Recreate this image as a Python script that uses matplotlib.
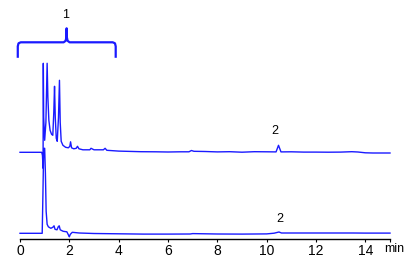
import matplotlib
matplotlib.use("Agg")
import matplotlib.pyplot as plt
import numpy as np

plt.rcParams['font.family'] = ['Liberation Sans', 'DejaVu Sans']

# Upper chromatogram (time in min, signal relative to its own baseline)
upper_t = [0.00, 0.88, 0.91, 0.935, 0.945, 0.96, 1.00, 1.05, 1.10, 1.13, 1.17, 1.22,
           1.28, 1.33, 1.37, 1.40, 1.43, 1.47, 1.51, 1.56, 1.60, 1.63, 1.67, 1.74,
           1.85, 1.96, 2.02, 2.05, 2.09, 2.18, 2.28, 2.33, 2.39, 2.55, 2.75, 2.83,
           2.88, 3.00, 3.38, 3.45, 3.52, 4.00, 4.90, 5.50, 6.00, 6.50, 6.85, 6.95,
           7.05, 7.50, 8.00, 8.50, 9.00, 9.50, 10.00, 10.38, 10.48, 10.58, 11.00,
           11.50, 12.00, 12.50, 13.00, 13.45, 13.70, 14.00, 14.30, 15.00]
upper_v = [0.0, 0.0, -3.0, -16.0, 89.0, 35.0, 12.0, 30.0, 89.0, 55.0, 32.0, 22.0,
           18.0, 17.0, 40.0, 66.0, 35.0, 14.0, 11.0, 35.0, 72.0, 30.0, 11.0, 7.0,
           5.0, 4.5, 6.0, 10.5, 4.5, 3.5, 4.0, 6.0, 3.5, 2.5, 2.5, 2.5,
           4.0, 2.5, 2.5, 4.0, 2.0, 1.2, 0.6, 0.5, 0.3, 0.5, 0.5, 1.8,
           1.0, 0.8, 0.4, 0.6, 0.1, 0.6, 0.5, 0.4, 7.0, 0.4, 0.5,
           0.2, 0.2, 0.1, 0.2, 0.6, 0.3, -0.5, -0.7, -0.7]

# Lower chromatogram
lower_t = [0.00, 0.90, 0.93, 0.96, 1.00, 1.03, 1.06, 1.10, 1.15, 1.25, 1.33, 1.38,
           1.42, 1.50, 1.55, 1.59, 1.63, 1.75, 1.90, 1.97, 2.00, 2.04, 2.12, 2.40,
           3.00, 4.00, 5.00, 6.00, 6.90, 7.00, 8.00, 9.00, 10.00, 10.30, 10.50,
           10.60, 11.50, 12.50, 13.50, 14.00, 15.00]
lower_v = [0.0, 0.0, 40.0, 85.0, 85.0, 60.0, 22.0, 9.0, 6.5, 5.0, 6.0, 7.5,
           4.0, 3.5, 6.5, 7.5, 3.5, 2.0, 1.5, -2.0, -3.5, -1.0, 1.0, 0.3,
           -0.2, -0.5, -0.8, -0.8, -0.7, -0.3, -0.7, -0.8, -0.6, 0.1, 1.3,
           0.3, 0.3, 0.3, 0.3, 0.2, 0.2]

upper_offset = 86.7
lower_offset = 5.7

tick_vals = [0, 2, 4, 6, 8, 10, 12, 14]
tick_labels = ["0", "2", "4", "6", "8", "10", "12", "14"]

color = '#1a1aff'

W, H = 417, 268
fig = plt.figure(figsize=(W / 100, H / 100), dpi=100)
ax = fig.add_axes([20 / W, (H - 239) / H, 370 / W, 239 / H])
ax.set_xlim(0, 15)
ax.set_ylim(0, 239)

ax.plot(upper_t, np.array(upper_v) + upper_offset, color=color, lw=1.0, clip_on=False)
ax.plot(lower_t, np.array(lower_v) + lower_offset, color=color, lw=1.0, clip_on=False)

# Brace over group 1
bx0, bx1, bc = -0.09, 3.88, 1.89
yb, yh, ya = 182.3, 196.7, 210.7
brace_x = [bx0, bx0, bx0 + 0.03, bx0 + 0.12, bc - 0.12, bc - 0.04, bc - 0.01, bc,
           bc + 0.01, bc + 0.04, bc + 0.12, bx1 - 0.12, bx1 - 0.03, bx1, bx1]
brace_y = [yb, yh - 4, yh - 1, yh, yh, yh + 1.5, yh + 5, ya,
           yh + 5, yh + 1.5, yh, yh, yh - 1, yh - 4, yb]
ax.plot(brace_x, brace_y, color=color, lw=1.6, clip_on=False, solid_joinstyle='round')

ax.text(1.83, 224, "1", ha='center', va='center', fontsize=9)
ax.text(10.31, 108.5, "2", ha='center', va='center', fontsize=9)
ax.text(10.54, 19.5, "2", ha='center', va='center', fontsize=9)

for s in ['top', 'right', 'left']:
    ax.spines[s].set_visible(False)
ax.spines['bottom'].set_linewidth(1.0)
ax.set_yticks([])
ax.set_xticks(tick_vals)
ax.set_xticklabels(tick_labels, fontsize=10)
ax.set_xticks([15], minor=True)
ax.tick_params(axis='x', which='both', direction='out', length=2, width=0.8, pad=1.5)
ax.annotate("min", xy=(15.17, 0), xycoords=('data', 'axes fraction'),
            xytext=(0, -3.2), textcoords='offset points', ha='center', va='top', fontsize=9)

fig.savefig("out.png", dpi=100)
